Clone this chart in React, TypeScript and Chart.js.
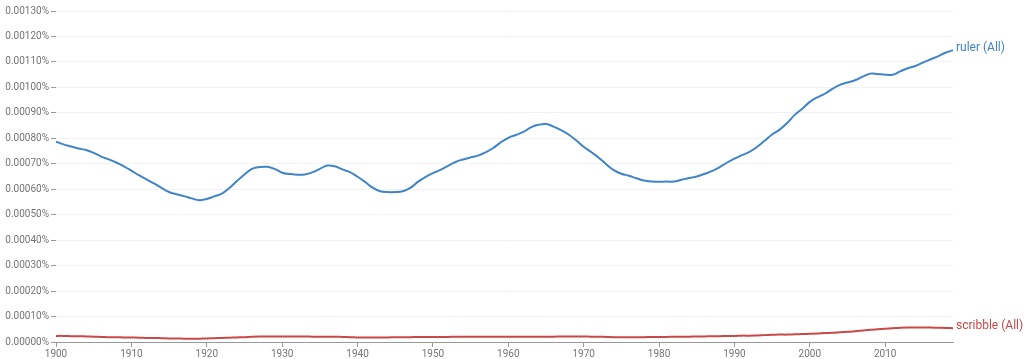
import React, { useEffect, useRef } from "react";
import { Chart, registerables } from "chart.js";

Chart.register(...registerables);

const startYear = 1900;
const endYear = 2019;
const years: number[] = [];
for (let y = startYear; y <= endYear; y++) years.push(y);

const seriesNames = ["ruler (All)", "scribble (All)"];
const seriesColors = ["#3f84c6", "#c94848"];

// values in percent
const rulerValues = [
  0.000787, 0.000776, 0.000768, 0.000760, 0.000754, 0.000743, 0.000728, 0.000717, 0.000705, 0.000690,
  0.000673, 0.000655, 0.000639, 0.000623, 0.000605, 0.000589, 0.000580, 0.000573, 0.000564, 0.000557,
  0.000562, 0.000572, 0.000583, 0.000605, 0.000632, 0.000658, 0.000680, 0.000687, 0.000688, 0.000680,
  0.000665, 0.000660, 0.000657, 0.000658, 0.000666, 0.000680, 0.000693, 0.000690, 0.000678, 0.000667,
  0.000649, 0.000629, 0.000606, 0.000592, 0.000589, 0.000589, 0.000592, 0.000605, 0.000629, 0.000648,
  0.000663, 0.000676, 0.000692, 0.000707, 0.000717, 0.000725, 0.000732, 0.000745, 0.000762, 0.000784,
  0.000802, 0.000813, 0.000825, 0.000843, 0.000853, 0.000856, 0.000846, 0.000832, 0.000815, 0.000792,
  0.000767, 0.000746, 0.000724, 0.000698, 0.000675, 0.000661, 0.000653, 0.000643, 0.000634, 0.000630,
  0.000629, 0.000630, 0.000630, 0.000637, 0.000644, 0.000650, 0.000660, 0.000671, 0.000686, 0.000704,
  0.000720, 0.000734, 0.000747, 0.000766, 0.000790, 0.000815, 0.000834, 0.000860, 0.000892, 0.000916,
  0.000943, 0.000961, 0.000975, 0.000994, 0.001010, 0.001019, 0.001028, 0.001042, 0.001054, 0.001053,
  0.001050, 0.001050, 0.001063, 0.001075, 0.001084, 0.001097, 0.001110, 0.001122, 0.001136, 0.001146,
];

const scribbleValues = [
  0.000024, 0.000024, 0.000023, 0.000023, 0.000022, 0.000021, 0.000020, 0.000019, 0.000019, 0.000018,
  0.000018, 0.000017, 0.000016, 0.000016, 0.000015, 0.000014, 0.000014, 0.000013, 0.000013, 0.000013,
  0.000014, 0.000015, 0.000016, 0.000017, 0.000018, 0.000019, 0.000021, 0.000022, 0.000022, 0.000022,
  0.000022, 0.000022, 0.000022, 0.000022, 0.000021, 0.000021, 0.000021, 0.000021, 0.000020, 0.000019,
  0.000018, 0.000018, 0.000018, 0.000018, 0.000018, 0.000019, 0.000019, 0.000019, 0.000020, 0.000020,
  0.000020, 0.000020, 0.000020, 0.000021, 0.000021, 0.000021, 0.000021, 0.000021, 0.000021, 0.000021,
  0.000021, 0.000021, 0.000021, 0.000021, 0.000021, 0.000021, 0.000021, 0.000022, 0.000022, 0.000022,
  0.000022, 0.000021, 0.000021, 0.000020, 0.000019, 0.000019, 0.000019, 0.000019, 0.000019, 0.000020,
  0.000020, 0.000020, 0.000021, 0.000021, 0.000021, 0.000022, 0.000022, 0.000023, 0.000023, 0.000024,
  0.000024, 0.000025, 0.000025, 0.000026, 0.000027, 0.000028, 0.000029, 0.000029, 0.000030, 0.000031,
  0.000032, 0.000033, 0.000035, 0.000036, 0.000038, 0.000040, 0.000042, 0.000045, 0.000048, 0.000050,
  0.000052, 0.000054, 0.000056, 0.000057, 0.000057, 0.000057, 0.000057, 0.000056, 0.000055, 0.000054,
];

const yTicks = [0, 0.0001, 0.0002, 0.0003, 0.0004, 0.0005, 0.0006, 0.0007, 0.0008, 0.0009, 0.001, 0.0011, 0.0012, 0.0013];
const xTicks = [1900, 1910, 1920, 1930, 1940, 1950, 1960, 1970, 1980, 1990, 2000, 2010];

const endLabels = {
  id: "endLabels",
  afterDatasetsDraw(chart: any) {
    const ctx = chart.ctx;
    ctx.save();
    ctx.font = "12px Roboto";
    ctx.textBaseline = "middle";
    ctx.textAlign = "left";
    chart.data.datasets.forEach((ds: any, i: number) => {
      const meta = chart.getDatasetMeta(i);
      const pt = meta.data[meta.data.length - 1];
      if (!pt) return;
      ctx.fillStyle = ds.borderColor;
      ctx.fillText(ds.label, pt.x + 3, pt.y - 2);
    });
    ctx.restore();
  },
};

export default function App() {
  const ref = useRef<HTMLCanvasElement>(null);
  useEffect(() => {
    if (!ref.current) return;
    const chart = new Chart(ref.current, {
      type: "line",
      data: {
        datasets: [
          {
            label: seriesNames[0],
            data: years.map((y, i) => ({ x: y, y: rulerValues[i] })),
            borderColor: seriesColors[0],
            borderWidth: 2,
            pointRadius: 0,
            tension: 0.4,
            fill: false,
          },
          {
            label: seriesNames[1],
            data: years.map((y, i) => ({ x: y, y: scribbleValues[i] })),
            borderColor: seriesColors[1],
            borderWidth: 2,
            pointRadius: 0,
            tension: 0.4,
            fill: false,
          },
        ],
      },
      options: {
        responsive: false,
        animation: false,
        layout: { padding: { top: 11, right: 71, left: 0, bottom: 0 } },
        plugins: { legend: { display: false }, tooltip: { enabled: false } },
        scales: {
          x: {
            type: "linear",
            min: startYear,
            max: endYear,
            afterBuildTicks: (scale: any) => {
              scale.ticks = xTicks.map((v) => ({ value: v }));
            },
            afterFit: (scale: any) => {
              scale.height = 17;
            },
            grid: {
              drawOnChartArea: false,
              drawTicks: true,
              tickLength: 5,
              tickColor: "#999999",
            },
            border: { display: true, color: "#999999", width: 1 },
            ticks: {
              color: "#757575",
              font: { family: "Roboto", size: 10 },
              padding: 1,
              maxRotation: 0,
              callback: (v: any) => String(v),
            },
          },
          y: {
            type: "linear",
            min: 0,
            max: 0.0013,
            afterBuildTicks: (scale: any) => {
              scale.ticks = yTicks.map((v) => ({ value: v }));
            },
            afterFit: (scale: any) => {
              scale.width = 56;
            },
            grid: {
              color: "#f2f2f2",
              tickColor: "#999999",
              tickLength: 5,
              drawTicks: true,
            },
            border: { display: false },
            ticks: {
              color: "#757575",
              font: { family: "Roboto", size: 10 },
              padding: 2,
              callback: (v: any) => Number(v).toFixed(5) + "%",
            },
          },
        },
      },
      plugins: [endLabels],
    });
    return () => chart.destroy();
  }, []);
  return (
    <div style={{ position: "absolute", left: 0, top: 0, width: 1024, height: 359, background: "#fff" }}>
      <canvas ref={ref} width={1024} height={359} style={{ display: "block" }} />
    </div>
  );
}
